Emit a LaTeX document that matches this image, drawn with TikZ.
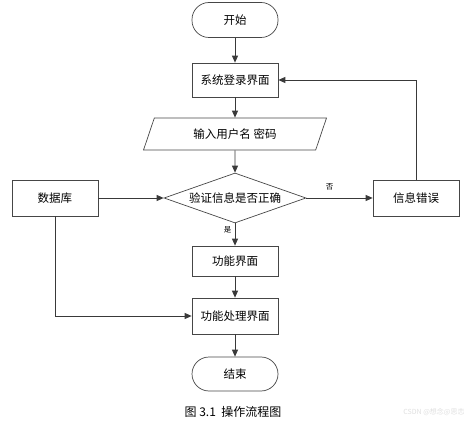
\documentclass[tikz,border=0pt]{standalone}
\usepackage{fontspec}
\newfontfamily\cjk{Noto Sans CJK SC}
\usetikzlibrary{shapes.geometric,arrows.meta}

\begin{document}
\begin{tikzpicture}[x=1pt,y=-1pt,
every node/.style={font=\cjk\fontsize{11.5}{13}\selectfont, draw=gray!55!black, line width=0.7pt},
term node/.style={rectangle, rounded corners=17pt, minimum width=86pt, minimum height=35pt},
proc node/.style={rectangle, minimum width=86pt, minimum height=34pt},
io node/.style={trapezium, trapezium left angle=71, trapezium right angle=109, trapezium stretches=true, minimum width=183pt, minimum height=32pt},
judge node/.style={diamond, inner sep=0pt, minimum width=142pt, minimum height=50pt, aspect=2.8},
tag/.style={draw=none, font=\cjk\fontsize{7.5}{9}\selectfont},
line/.style={draw=gray!45!black, line width=0.8pt, -{Triangle[length=7pt,width=6pt]}}]
\useasboundingbox (0,0) rectangle (474,422);
\node[term node] (start) at (235,20) {开始};
\node[proc node] (login) at (235,80) {系统登录界面};
\node[io node] (input) at (235,134) {输入用户名 密码};
\node[judge node] (check) at (235,198) {验证信息是否正确};
\node[proc node, minimum height=36pt] (db) at (55,198) {数据库};
\node[proc node, minimum height=36pt] (err) at (416,198) {信息错误};
\node[proc node, minimum height=30pt] (func) at (235,261) {功能界面};
\node[proc node, minimum height=36pt] (deal) at (235,316) {功能处理界面};
\node[term node, minimum height=34pt] (stop) at (235,374) {结束};
\node[draw=none, font=\cjk\fontsize{12}{14}\selectfont] (cap) at (233,412) {图 3.1~~操作流程图};
\node[draw=none, text=gray!25, font=\cjk\fontsize{7}{8}\selectfont] (mark) at (434,412) {CSDN @想念@思恋};

\draw[line] (start) -- (login);
\draw[line] (login) -- (input);
\draw[line] (input) -- (check);
\draw[line] (check) -- node[tag, pos=0.3, left] {是} (func);
\draw[line] (func) -- (deal);
\draw[line] (deal) -- (stop);
\draw[line] (db) -- (check);
\draw[line] (check) -- node[tag, pos=0.35, above=4pt] {否} (err);
\draw[line] (err.north) |- (login.east);
\draw[line] (db.south) |- (deal.west);
\end{tikzpicture}
\end{document}
